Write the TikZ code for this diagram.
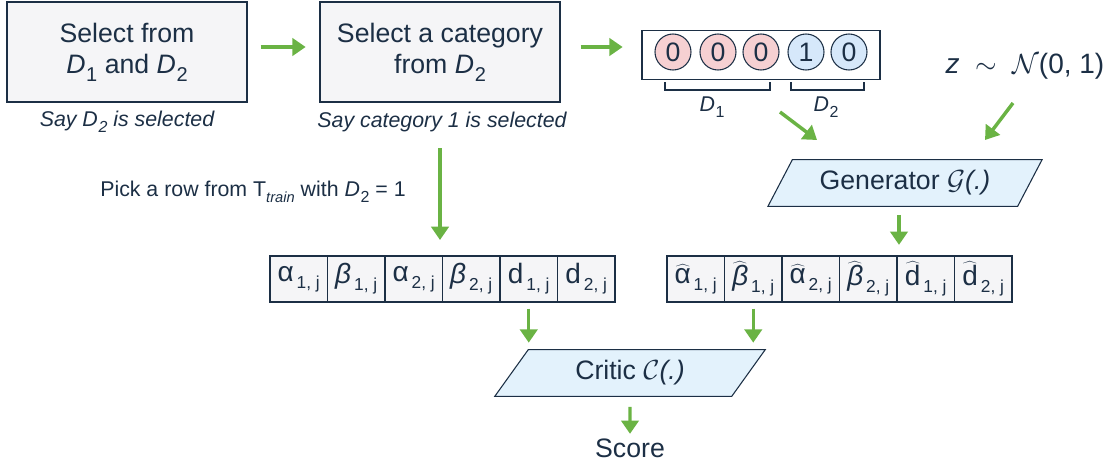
\documentclass[tikz,border=0pt]{standalone}
\usepackage{fontspec}
\setmainfont{Liberation Sans}
\usetikzlibrary{arrows.meta,shapes.geometric,decorations.pathreplacing}
\definecolor{navy}{HTML}{1C2F45}
\definecolor{grn}{HTML}{6AB344}
\definecolor{boxg}{HTML}{F5F5F7}
\definecolor{pblue}{HTML}{E3F2FC}
\definecolor{cpink}{HTML}{F6D0D2}
\definecolor{cblue}{HTML}{D6E8FA}
\newcommand{\Ds}[1]{\textit{D}\raisebox{-0.3em}{\fontsize{0.75em}{1em}\selectfont\kern0.5pt #1}}
\newcommand{\sbx}[1]{\raisebox{-0.25em}{\fontsize{13}{13}\selectfont\,#1}}
\newcommand{\hh}[1]{$\widehat{\hbox{#1}}$}
\begin{document}
\begin{tikzpicture}[x=0.75pt,y=-0.75pt,font=\fontsize{19}{22}\selectfont,text=navy,
  box/.style={draw=navy,fill=boxg,line width=1pt,minimum width=180pt,minimum height=75pt,align=center,font=\fontsize{20}{23}\selectfont},
  captxt/.style={font=\fontsize{16}{19}\selectfont\itshape},
  arr/.style={draw=grn,line width=2.6pt,-{Triangle[width=13pt,length=10pt]}},
  dig/.style={circle,draw=navy,line width=0.8pt,minimum size=27pt,inner sep=0pt,font=\fontsize{20}{22}\selectfont},
  cell/.style={draw=navy,fill=boxg,line width=1pt,minimum width=43.1pt,minimum height=34.5pt,inner sep=0pt,font=\fontsize{21}{24}\selectfont},
  para/.style={trapezium,trapezium left angle=60,trapezium right angle=120,trapezium stretches=true,draw=navy,fill=pblue,line width=0.8pt,minimum height=35pt}]
\useasboundingbox (0,0) rectangle (1104,462);
\node[box] (b1) at (127,52) {Select from\\\Ds{1} and \Ds{2}};
\node[captxt] (c1) at (127,122) {Say \Ds{2} is selected};
\node[box] (b2) at (440,52) {Select a category\\from \Ds{2}};
\node[captxt] (c2) at (442,122) {Say category 1 is selected};
\node[draw=navy,line width=0.8pt,minimum width=178.5pt,minimum height=37pt] (vec) at (761,55) {};
\foreach \x/\v/\c [count=\i] in {673/0/cpink,718/0/cpink,761/0/cpink,806/1/cblue,849/0/cblue}
  \node[dig,fill=\c] (d\i) at (\x,52) {\v};
\coordinate (br1a) at (665,82); \coordinate (br1b) at (770,82);
\coordinate (br2a) at (791,82); \coordinate (br2b) at (864,82);
\draw[navy,line width=0.8pt] (br1a) -- ++(0,8) -| (br1b);
\draw[navy,line width=0.8pt] (br2a) -- ++(0,8) -| (br2b);
\node[font=\fontsize{16}{19}\selectfont] (l1) at (712,107) {\Ds{1}};
\node[font=\fontsize{16}{19}\selectfont] (l2) at (826,107) {\Ds{2}};
\node[font=\fontsize{21}{24}\selectfont] (z) at (1025,66) {$\mathit{z}\ \sim\ \mathcal{N}$(0, 1)};
\node[para,minimum width=206pt,font=\fontsize{20}{23}\selectfont] (gen) at (905,183) {Generator $\mathcal{G}$\textit{(.)}};
\node[font=\fontsize{16}{19}\selectfont] (pick) at (253,192) {Pick a row from T\raisebox{-0.3em}{\fontsize{11}{11}\selectfont\itshape train} with \Ds{2} = 1};
\foreach \t [count=\i] in {α\sbx{1, j},\textit{β}\sbx{1, j},α\sbx{2, j},\textit{β}\sbx{2, j},d\sbx{1, j},d\sbx{2, j}}
  \node[cell] (r\i) at ({270+57.5*(\i-0.5)},279) {\t};
\foreach \t [count=\i] in {\hh{α}\sbx{1, j},\hh{\textit{β}}\sbx{1, j},\hh{α}\sbx{2, j},\hh{\textit{β}}\sbx{2, j},\hh{d}\sbx{1, j},\hh{d}\sbx{2, j}}
  \node[cell] (h\i) at ({667+57.5*(\i-0.5)},279) {\t};
\node[para,minimum width=203pt,font=\fontsize{20}{23}\selectfont] (crit) at (630,373) {Critic $\mathcal{C}$\textit{(.)}};
\node[font=\fontsize{20}{23}\selectfont] (score) at (630,448) {Score};
\coordinate (a1) at (440,148);
\coordinate (g1) at (780,112); \coordinate (g2) at (1013,103);
\draw[arr] (b1.east) ++(13,-5) -- ++(45,0);
\draw[arr] (b2.east) ++(20,-5) -- ++(42,0);
\draw[arr] (g1) -- (817,140);
\draw[arr] (g2) -- (985,140);
\draw[arr] (a1) -- (440,240);
\draw[arr] (gen.south -| 899,0) ++(0,8) -- ++(0,30);
\draw[arr] (r5.south) ++(0,6) -- ++(0,34);
\draw[arr] (h2.south) ++(0,6) -- ++(0,34);
\draw[arr] (crit.south) ++(0,10) -- (score.north);
\end{tikzpicture}
\end{document}
